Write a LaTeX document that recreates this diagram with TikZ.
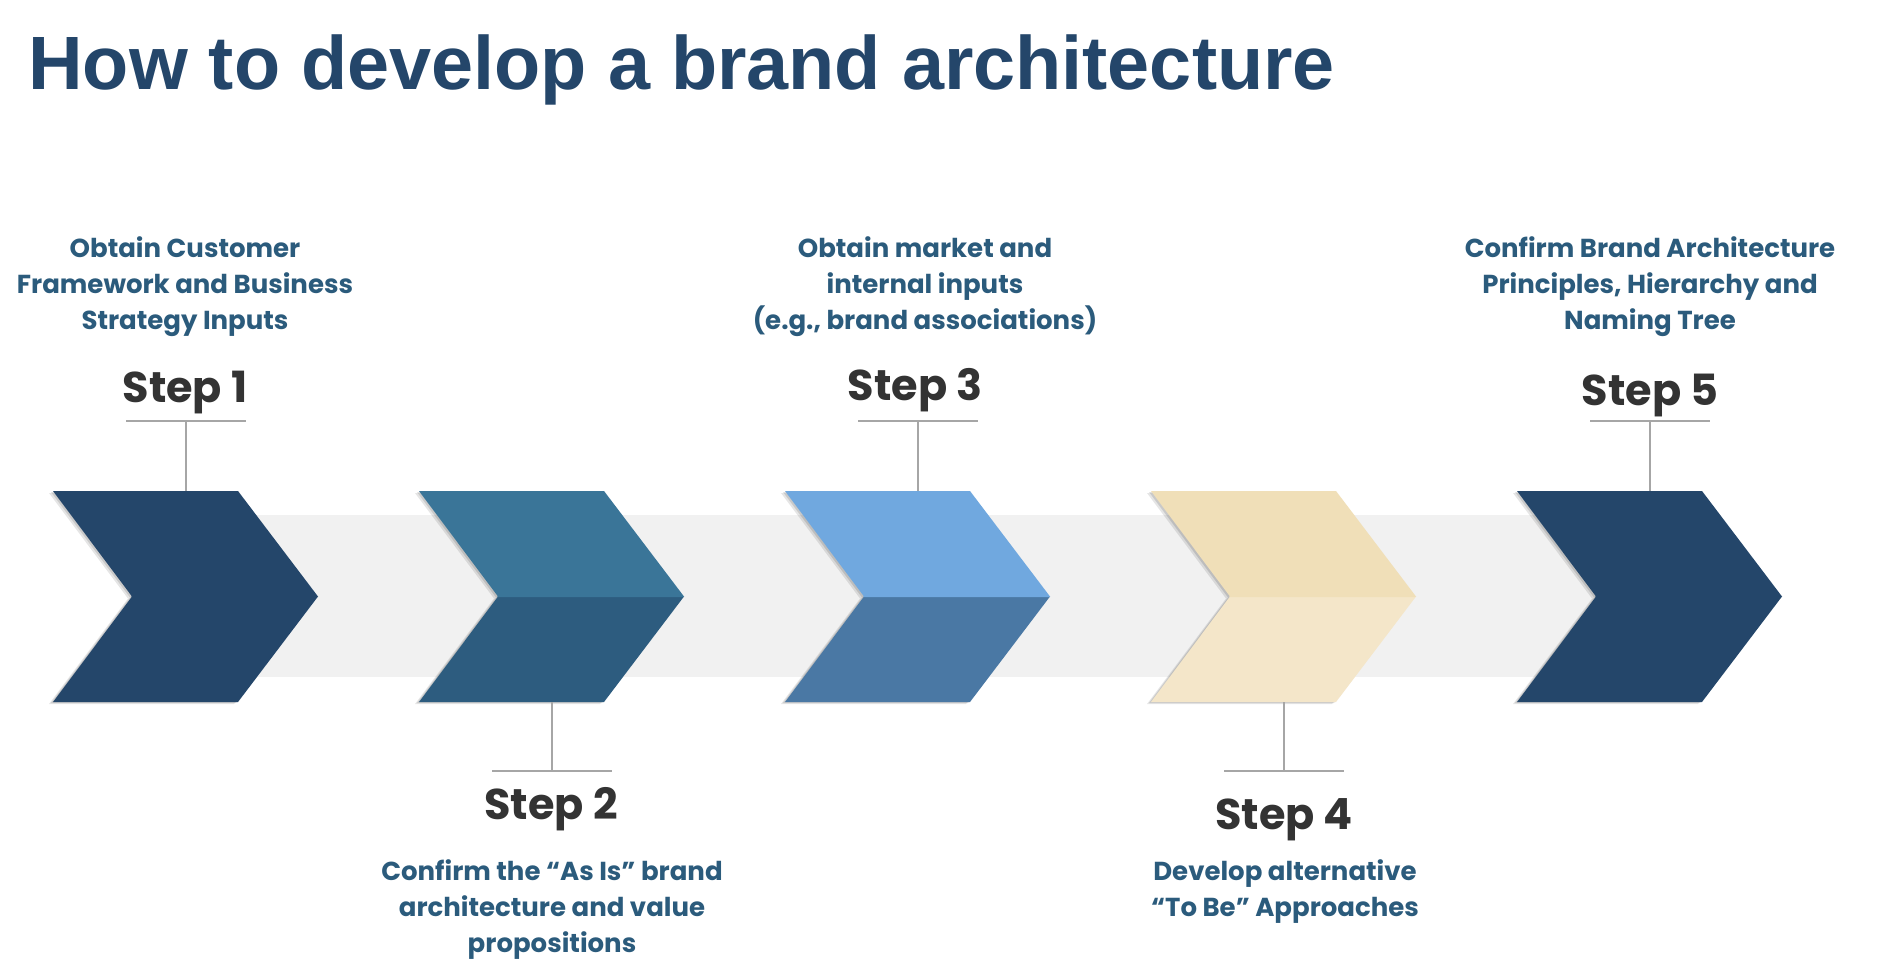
\documentclass[tikz,border=0pt]{standalone}
\usepackage{fontspec}
\setmainfont{Liberation Sans}
\newfontfamily\popfont{Poppins}
\definecolor{navy}{HTML}{24466A}
\definecolor{teal2a}{HTML}{3A7598}
\definecolor{teal2b}{HTML}{2D5C7F}
\definecolor{blue3a}{HTML}{70A8DF}
\definecolor{blue3b}{HTML}{4A78A4}
\definecolor{sand4a}{HTML}{F0DFB8}
\definecolor{sand4b}{HTML}{F4E6C9}
\definecolor{bandgrey}{HTML}{F1F1F1}
\definecolor{desccol}{HTML}{2B5B7C}
\definecolor{stepcol}{HTML}{333333}
\definecolor{linegrey}{HTML}{A6A6A6}
\tikzset{
  steplabel/.style={font=\popfont\bfseries\fontsize{21.5}{24}\selectfont, text=stepcol, inner sep=0pt, anchor=base},
  desc/.style={font=\popfont\bfseries\fontsize{13}{18}\selectfont, text=desccol, align=center, inner sep=0pt},
  leader/.style={draw=linegrey, line width=1pt},
}
\newcommand{\chevshape}[3]{% x0, top colour, bottom colour
  \fill[black, opacity=0.10] (#1-4,493) -- (#1+181,493) -- (#1+261,598.5) -- (#1+181,704) -- (#1-4,704) -- (#1+75,598.5) -- cycle;
  \fill[black, opacity=0.12] (#1-2,492) -- (#1+183,492) -- (#1+263,597.5) -- (#1+183,703) -- (#1-2,703) -- (#1+77,597.5) -- cycle;
  \fill[#2] (#1,491) -- (#1+185,491) -- (#1+265,596.5) -- (#1+79,596.5) -- cycle;
  \fill[#3] (#1+79,596.5) -- (#1+265,596.5) -- (#1+185,702) -- (#1,702) -- cycle;
  \fill[#2] (#1+79,596) -- (#1+265,596) -- (#1+264.2,597) -- (#1+78.2,597) -- cycle;
}
\begin{document}
\begin{tikzpicture}[x=0.5pt, y=-0.5pt]
\useasboundingbox (0,0) rectangle (1886,980);
\fill[white] (0,0) rectangle (1886,980);

% title
\node[anchor=base west, inner sep=0pt, font=\bfseries\fontsize{37.8}{40}\selectfont, text=navy] (title) at (28,89) {How to develop a brand architecture};

% grey band
\fill[bandgrey] (200,515) rectangle (1640,677);

% chevrons
\chevshape{53}{navy}{navy}
\chevshape{419}{teal2a}{teal2b}
\chevshape{785}{blue3a}{blue3b}
\chevshape{1151}{sand4a}{sand4b}
\chevshape{1517}{navy}{navy}

% chevron anchor coordinates
\coordinate (ch1) at (186,491);
\coordinate (ch2) at (552,702);
\coordinate (ch3) at (918,491);
\coordinate (ch4) at (1284,702);
\coordinate (ch5) at (1650,491);

% step labels
\node[steplabel] (s1) at (185,402) {Step 1};
\node[steplabel] (s2) at (551,819) {Step 2};
\node[steplabel] (s3) at (915,400) {Step 3};
\node[steplabel] (s4) at (1284,829) {Step 4};
\node[steplabel] (s5) at (1650,405) {Step 5};

% leader bars
\coordinate (b1) at (186,421);
\coordinate (b2) at (552,771);
\coordinate (b3) at (918,421);
\coordinate (b4) at (1284,771);
\coordinate (b5) at (1650,421);
\draw[leader] ([xshift=-30pt]b1) -- ([xshift=30pt]b1);
\draw[leader] ([xshift=-30pt]b2) -- ([xshift=30pt]b2);
\draw[leader] ([xshift=-30pt]b3) -- ([xshift=30pt]b3);
\draw[leader] ([xshift=-30pt]b4) -- ([xshift=30pt]b4);
\draw[leader] ([xshift=-30pt]b5) -- ([xshift=30pt]b5);
\draw[leader] (b1) -- (ch1);
\draw[leader] (b2) -- (ch2);
\draw[leader] (b3) -- (ch3);
\draw[leader] (b4) -- (ch4);
\draw[leader] (b5) -- (ch5);

% descriptions
\node[desc] (d1) at (185,287) {Obtain Customer\\Framework and Business\\Strategy Inputs};
\node[desc] (d2) at (552,910) {Confirm the “As Is” brand\\architecture and value\\propositions};
\node[desc] (d3) at (925,287) {Obtain market and\\internal inputs\\(e.g., brand associations)};
\node[desc] (d4) at (1285,892) {Develop alternative\\“To Be” Approaches};
\node[desc] (d5) at (1650,287) {Confirm Brand Architecture\\Principles, Hierarchy and\\Naming Tree};
\end{tikzpicture}
\end{document}
